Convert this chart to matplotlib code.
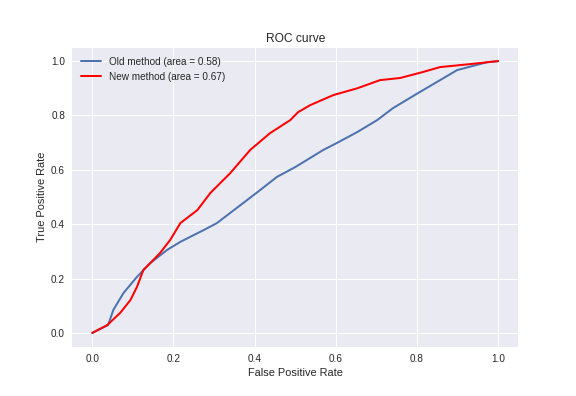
import matplotlib
matplotlib.use("Agg")
import matplotlib.pyplot as plt

plt.style.use('seaborn-v0_8')

old_fpr = [0.0, 0.039, 0.052, 0.077, 0.11, 0.143, 0.184, 0.217, 0.274, 0.307, 0.372, 0.414,
           0.455, 0.500, 0.569, 0.603, 0.653, 0.702, 0.741, 0.80, 0.857, 0.899, 0.973, 1.0]
old_tpr = [0.0, 0.029, 0.085, 0.147, 0.206, 0.257, 0.305, 0.335, 0.378, 0.404, 0.478, 0.526,
           0.574, 0.610, 0.673, 0.699, 0.739, 0.783, 0.827, 0.88, 0.930, 0.967, 0.996, 1.0]

new_fpr = [0.0, 0.037, 0.069, 0.094, 0.11, 0.126, 0.143, 0.167, 0.192, 0.217, 0.259, 0.291,
           0.340, 0.389, 0.438, 0.488, 0.507, 0.537, 0.594, 0.653, 0.709, 0.759, 0.815, 0.857,
           0.931, 1.0]
new_tpr = [0.0, 0.029, 0.074, 0.121, 0.169, 0.232, 0.257, 0.294, 0.342, 0.404, 0.452, 0.515,
           0.588, 0.673, 0.735, 0.783, 0.812, 0.838, 0.875, 0.900, 0.930, 0.938, 0.960, 0.978,
           0.989, 1.0]

old_auc = 0.58
new_auc = 0.67

fig, ax = plt.subplots(figsize=(8, 5.5), dpi=72)
fig.subplots_adjust(left=0.125, right=0.9, top=0.88, bottom=0.125)
ax.plot(old_fpr, old_tpr, color='#4C72B0', lw=2, label='Old method (area = %0.2f)' % old_auc)
ax.plot(new_fpr, new_tpr, color='red', lw=2, label='New method (area = %0.2f)' % new_auc)
ax.set_xlabel('False Positive Rate')
ax.set_ylabel('True Positive Rate')
ax.set_title('ROC curve')
ax.legend(loc='upper left')
fig.savefig('out.png', dpi=72)
